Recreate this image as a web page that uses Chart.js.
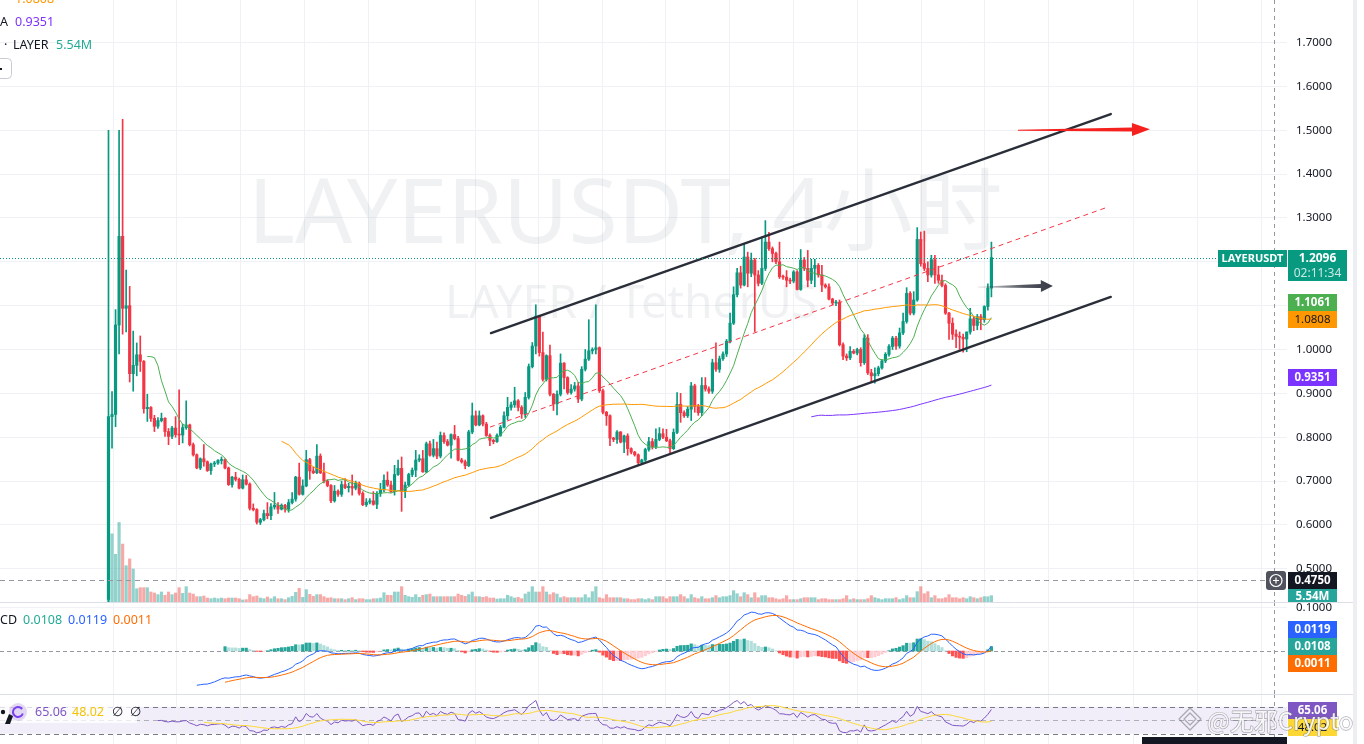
<!DOCTYPE html>
<html>
<head>
<meta charset="utf-8">
<script src="https://cdn.jsdelivr.net/npm/chart.js@4.4.1/dist/chart.umd.min.js"></script>
<style>
  html, body { margin: 0; padding: 0; background: #fff; overflow: hidden; }
  #wrap { position: relative; width: 1364px; height: 744px; }
  #wrap canvas { position: absolute; left: 0; }
  #strip { position: absolute; left: 1353px; top: 0; width: 4px; height: 744px; background: #eceef2; }
</style>
</head>
<body>
<div id="wrap">
  <canvas id="price" width="1364" height="602" style="top:0"></canvas>
  <canvas id="macd" width="1364" height="92" style="top:602px"></canvas>
  <canvas id="rsi" width="1364" height="50" style="top:694px"></canvas>
  <div id="strip"></div>
</div>
<script>
// LAYERUSDT 4h candles (index 0 = listing candle)
const opens = [
  .43,.847,.852,1.056,1.258,1.094,1.10,.945,.964,.988,
  .973,.865,.868,.843,.825,.838,.843,.813,.802,.821,
  .806,.805,.822,.828,.783,.76,.73,.751,.744,.724,
  .739,.741,.747,.749,.73,.692,.709,.704,.684,.703,
  .693,.638,.635,.606,.612,.626,.621,.641,.645,.636,
  .645,.636,.651,.659,.709,.670,.689,.749,.723,.719,
  .757,.719,.70,.69,.655,.677,.670,.692,.685,.688,
  .684,.695,.672,.646,.652,.655,.647,.672,.68,.702,
  .691,.676,.715,.729,.676,.691,.715,.725,.748,.751,
  .721,.785,.759,.774,.757,.804,.79,.782,.806,.797,
  .748,.744,.735,.812,.849,.828,.849,.83,.804,.793,
  .79,.804,.823,.849,.868,.874,.883,.868,.853,.891,
  .961,1.008,1.076,.993,.932,.986,.898,.876,.898,.969,
  .936,.902,.91,.917,.887,.955,.978,.997,1.0,1.004,
  .906,.857,.849,.798,.795,.812,.789,.803,.774,.766,
  .76,.742,.748,.772,.79,.778,.795,.808,.80,.792,
  .774,.811,.875,.856,.849,.864,.917,.87,.856,.918,
  .91,.905,.97,.955,.979,.99,1.019,1.06,1.125,1.175,
  1.147,1.211,1.174,1.204,1.17,1.151,1.185,1.245,1.23,1.219,
  1.20,1.166,1.165,1.158,1.156,1.177,1.137,1.204,1.185,1.158,
  1.185,1.192,1.17,1.147,1.143,1.115,1.106,1.108,1.011,.985,
  .981,.996,.992,1.0,.97,1.026,.947,.94,.945,.958,
  .974,.989,1.007,1.026,1.008,1.038,1.064,1.128,1.083,1.113,
  1.251,1.196,1.185,1.17,1.205,1.17,1.158,1.146,1.083,1.06,
  1.035,1.03,1.028,1.024,1.04,1.07,1.055,1.075,1.068,1.098,
  1.14
];
const highs = [
  1.50,.904,1.091,1.50,1.525,1.181,1.144,1.042,1.015,1.031,
  .975,.898,.870,.85,.845,.855,.845,.82,.825,.847,
  .908,.83,.883,.83,.787,.762,.753,.783,.746,.741,
  .745,.749,.755,.751,.732,.711,.72,.707,.714,.713,
  .696,.648,.637,.615,.634,.651,.649,.674,.651,.648,
  .647,.658,.674,.711,.741,.703,.77,.752,.732,.783,
  .762,.741,.703,.692,.69,.68,.70,.706,.695,.714,
  .70,.698,.676,.66,.66,.676,.676,.695,.714,.721,
  .70,.736,.748,.755,.698,.718,.73,.77,.76,.77,
  .789,.791,.795,.789,.812,.81,.795,.808,.827,.802,
  .752,.748,.816,.878,.86,.86,.851,.834,.808,.795,
  .808,.827,.858,.891,.88,.914,.886,.872,.902,.967,
  1.016,1.102,1.078,1.04,.988,1.01,.90,.906,.99,.97,
  .938,.92,.925,.925,.961,1.0,1.068,1.004,1.102,1.006,
  .91,.859,.851,.80,.815,.813,.805,.808,.776,.768,
  .762,.75,.775,.80,.797,.819,.822,.819,.818,.796,
  .819,.902,.90,.86,.87,.925,.921,.875,.936,.936,
  .915,.978,1.015,.985,.995,1.023,1.083,1.143,1.185,1.19,
  1.241,1.222,1.22,1.208,1.18,1.257,1.294,1.267,1.234,1.222,
  1.245,1.17,1.18,1.163,1.18,1.18,1.228,1.21,1.226,1.206,
  1.206,1.196,1.192,1.15,1.15,1.117,1.112,1.113,1.015,.99,
  1.007,1.0,1.003,1.004,1.034,1.034,.955,.958,.962,.977,
  .993,1.011,1.03,1.03,1.049,1.083,1.141,1.132,1.132,1.278,
  1.268,1.27,1.20,1.215,1.215,1.19,1.17,1.15,1.085,1.072,
  1.045,1.04,1.035,1.04,1.094,1.075,1.08,1.08,1.10,1.15,
  1.245
];
const lows = [
  .42,.775,.824,.99,1.035,1.04,.926,.905,.94,.95,
  .855,.836,.836,.813,.82,.835,.802,.783,.797,.80,
  .783,.787,.818,.78,.757,.728,.726,.734,.722,.715,
  .733,.738,.739,.728,.69,.686,.70,.682,.682,.691,
  .634,.632,.602,.601,.609,.614,.612,.636,.626,.634,
  .629,.629,.648,.654,.668,.668,.687,.704,.717,.717,
  .717,.696,.687,.651,.652,.665,.665,.683,.675,.668,
  .68,.668,.644,.642,.648,.645,.637,.665,.676,.688,
  .674,.668,.713,.631,.662,.688,.71,.71,.744,.72,
  .719,.757,.755,.751,.753,.786,.78,.752,.794,.746,
  .741,.728,.733,.808,.826,.826,.826,.802,.781,.785,
  .788,.802,.821,.84,.862,.868,.86,.843,.845,.887,
  .958,.99,.985,.928,.928,.894,.861,.851,.894,.91,
  .898,.898,.905,.879,.883,.951,.975,.99,.99,.902,
  .853,.827,.781,.79,.786,.787,.765,.759,.762,.757,
  .737,.739,.745,.768,.773,.774,.792,.797,.79,.76,
  .772,.808,.834,.845,.845,.838,.857,.85,.849,.905,
  .90,.90,.95,.948,.975,.984,1.015,1.057,1.12,1.14,
  1.145,1.143,1.166,1.041,1.145,1.148,1.18,1.226,1.20,1.196,
  1.162,1.16,1.143,1.15,1.152,1.136,1.135,1.18,1.143,1.15,
  1.143,1.165,1.132,1.14,1.113,1.102,1.10,1.008,.977,.975,
  .977,.99,.988,.962,.966,.943,.925,.923,.94,.955,
  .97,.985,1.0,1.0,1.003,1.034,1.06,1.079,1.079,1.11,
  1.19,1.18,1.155,1.165,1.151,1.151,1.143,1.08,1.023,1.023,
  1.004,1.0,.994,.995,1.035,1.043,1.045,1.045,1.062,1.09,
  1.12
];
const closes = [
  .847,.852,1.056,1.258,1.094,1.10,.945,.964,.988,.973,
  .865,.868,.843,.825,.838,.843,.813,.802,.821,.806,
  .805,.822,.828,.783,.76,.73,.751,.744,.724,.739,
  .741,.747,.749,.73,.692,.709,.704,.684,.703,.693,
  .638,.635,.606,.612,.626,.621,.641,.645,.636,.645,
  .636,.651,.659,.709,.670,.689,.749,.723,.719,.757,
  .719,.70,.69,.655,.677,.670,.692,.685,.688,.684,
  .695,.672,.646,.652,.655,.647,.672,.68,.702,.691,
  .676,.715,.729,.676,.691,.715,.725,.748,.751,.721,
  .785,.759,.774,.757,.804,.79,.782,.806,.797,.748,
  .744,.735,.812,.849,.828,.849,.83,.804,.793,.79,
  .804,.823,.849,.868,.874,.883,.868,.853,.891,.961,
  1.008,1.076,.993,.932,.986,.898,.876,.898,.969,.936,
  .902,.91,.917,.887,.955,.978,.997,1.0,1.004,.906,
  .857,.849,.798,.795,.812,.789,.803,.774,.766,.76,
  .742,.748,.772,.79,.778,.795,.808,.80,.792,.774,
  .811,.875,.856,.849,.864,.917,.87,.856,.918,.91,
  .905,.97,.955,.979,.99,1.019,1.06,1.125,1.175,1.147,
  1.211,1.174,1.204,1.17,1.151,1.185,1.245,1.23,1.219,1.20,
  1.166,1.165,1.158,1.156,1.177,1.137,1.204,1.185,1.158,1.185,
  1.192,1.17,1.147,1.143,1.115,1.106,1.108,1.011,.985,.981,
  .996,.992,1.0,.97,1.026,.947,.94,.945,.958,.974,
  .989,1.007,1.026,1.008,1.038,1.064,1.128,1.083,1.113,1.251,
  1.196,1.185,1.17,1.205,1.17,1.158,1.146,1.083,1.06,1.035,
  1.03,1.028,1.024,1.04,1.07,1.055,1.075,1.068,1.098,1.14,
  1.2096
];
// volume in millions
const volumes = [
  150,60,42,70,51,32,38,29,11.7,12.6,
  12.6,12.6,8.8,7.9,6.5,8.8,5.9,8.8,6.5,7.9,
  12.6,7.6,13.5,7.9,7,4.7,4.7,5.3,3.5,2.9,
  3.5,2.9,3.5,2.9,3.5,3.5,3.5,2.9,1.8,2.1,
  6.5,4.7,5.3,3.5,2.9,4.4,2.9,4.7,2.9,2.9,
  2.1,3.8,5,8.5,12,4.1,10.9,6.7,5,6.5,
  6.5,4.7,3.5,3.8,2.9,2.9,2.9,2.1,2.9,3.8,
  2.1,2.9,2.9,2.1,2.1,2.9,2.9,3.5,8.2,5.9,
  5.9,8.8,8.8,13.5,5.9,4.7,4.1,6.5,4.1,5.9,
  6.5,7,4.7,4.7,4.7,4.7,4.7,4.7,4.7,7,
  5.9,5,6.5,8.8,4.7,4.7,4.1,4.7,3.5,3.5,
  2.6,2.9,2.9,5.9,4.7,3.5,4.1,2.9,7,8.8,
  13.5,8.8,8.8,13.5,8.8,6.5,8.2,7,3.8,4.7,
  3.8,3.8,3.8,3.8,3.8,6.5,3.8,9.1,13.5,3.8,
  2.9,6.5,3.8,3.8,3.8,3.8,2.9,2.9,2.1,2.1,
  2.9,2.9,2.1,2.9,2.1,4.7,4.7,4.7,2.9,4.7,
  4.7,4.7,6.5,4.7,2.9,6.5,3.8,2.9,4.7,2.9,
  2.9,3.8,5.6,3.8,4.7,4.7,5.6,10,7.3,4.7,
  8.2,6.5,3.8,8.2,3.8,5.6,5.6,3.8,3.8,2.9,
  2.1,2.9,5.6,2.1,2.1,2.1,2.9,3.8,3.8,3.8,
  3.8,2.1,2.9,2.9,2.1,2.1,2.1,2.1,2.9,5.6,
  2.1,2.9,2.1,2.1,2.1,2.9,5.6,3.8,2.9,2.1,
  2.9,2.9,2.9,3.8,2.1,2.9,5.6,3.8,3.8,9.1,
  13.5,7.3,9.1,3.8,5.6,2.9,2.9,3.8,6.5,3.8,
  3.8,2.9,3.8,2.9,4.7,3.8,2.9,3.8,4.7,4.7,
  5.6
];

const priceTicks = [0.5, 0.6, 0.7, 0.8, 0.9, 1.0, 1.1, 1.2, 1.3, 1.4, 1.5, 1.6, 1.7];
const macdTicks = [0.1];
const timeGrid = [1.3, 19.1, 37.2, 55.4, 73.5, 103.8, 121.6, 139.7, 157.6, 175.7, 193.8, 211.9, 230.0, 247.9, 266.0, 290.1, 308.2, 326.3];
const cursorIdx = 330;

const maPeriods = [12, 50, 200];
const maColors = ['#4CAF50', '#FF9800', '#7B33FF'];
const maLast = [1.1061, 1.0808, 0.9351];
const lastPrice = 1.2096;
const countdown = '02:11:34';
const lastVolText = '5.54M';
const lastVol = 5.54;
const alertPrice = 0.4750;
const macdLast = [0.0119, 0.0108, 0.0011];   // macd, histogram, signal
const rsiLast = [65.06, 48.02];
const rsiLevels = [70, 50, 30];

// drawings: [candle index, price]
const channelUpper = [[108.3, 1.0376], [283.8, 1.537]];
const channelLower = [[108.3, 0.616], [283.8, 1.12]];
const channelMid = [[108.0, 0.823], [283.0, 1.325]];
const redArrow = [[257.5, 1.500], [294.9, 1.502]];
const grayArrow = [[246.2, 1.1425], [267.4, 1.145]];

const UP = '#089981', DOWN = '#F23645';
const FONT = '"Noto Sans", "Liberation Sans", sans-serif';
const WM_FONT = '"Noto Sans", "Noto Sans CJK SC", sans-serif';
const xMin = -30.72, xMax = 333.7;

// indicators
function sma(src, n) {
  return src.map((v, i) => {
    if (i < n - 1) return null;
    let s = 0;
    for (let k = i - n + 1; k <= i; k++) { if (src[k] == null) return null; s += src[k]; }
    return s / n;
  });
}
function ema(src, n) {
  const a = 2 / (n + 1), out = [], buf = [];
  let prev = null;
  for (const v of src) {
    if (v == null) { out.push(null); continue; }
    if (prev == null) {
      buf.push(v);
      if (buf.length === n) { prev = buf.reduce((p, q) => p + q, 0) / n; out.push(prev); }
      else out.push(null);
    } else { prev = a * v + (1 - a) * prev; out.push(prev); }
  }
  return out;
}
function rsi(src, n) {
  const out = [null];
  let su = 0, sd = 0, au = 0, ad = 0;
  for (let i = 1; i < src.length; i++) {
    const d = src[i] - src[i - 1], u = Math.max(d, 0), dn = Math.max(-d, 0);
    if (i <= n) {
      su += u; sd += dn;
      if (i === n) { au = su / n; ad = sd / n; out.push(100 - 100 / (1 + au / ad)); }
      else out.push(null);
    } else {
      au = (au * (n - 1) + u) / n; ad = (ad * (n - 1) + dn) / n;
      out.push(100 - 100 / (1 + au / ad));
    }
  }
  return out;
}

const idx = closes.map((_, i) => i);
const candleColors = idx.map(i => closes[i] >= opens[i] ? UP : DOWN);
const volColors = idx.map(i => closes[i] >= opens[i] ? 'rgba(38,166,154,0.5)' : 'rgba(239,83,80,0.5)');
const maSeries = maPeriods.map(n => sma(closes, n));

const ema12 = ema(closes, 12), ema26 = ema(closes, 26);
const macdLine = idx.map(i => ema12[i] != null && ema26[i] != null ? ema12[i] - ema26[i] : null);
const signalLine = ema(macdLine, 9);
const hist = idx.map(i => macdLine[i] != null && signalLine[i] != null ? macdLine[i] - signalLine[i] : null);
const histColors = hist.map((h, i) => {
  if (h == null) return 'rgba(0,0,0,0)';
  const p = hist[i - 1];
  if (h >= 0) return (p == null || h > p) ? '#26A69A' : '#B2DFDB';
  return (p == null || h < p) ? '#FF5252' : '#FFCDD2';
});
const rsiLine = rsi(closes, 14);
const rsiMa = sma(rsiLine, 14);

// helpers
const xy = arr => arr.map((v, i) => ({ x: i, y: v }));
function rightAxis(extra) {
  return Object.assign({
    position: 'right',
    border: { display: false },
    afterFit(s) { s.width = 77; s.paddingTop = 0; s.paddingBottom = 0; }
  }, extra);
}
function timeGridLines(ctx, x, top, bottom) {
  ctx.save();
  ctx.strokeStyle = '#eff1f5';
  ctx.lineWidth = 1;
  timeGrid.forEach(v => {
    const px = Math.round(x.getPixelForValue(v)) + 0.5;
    ctx.beginPath(); ctx.moveTo(px, top); ctx.lineTo(px, bottom); ctx.stroke();
  });
  ctx.restore();
}
function cursorLine(ctx, x, h) {
  ctx.save();
  ctx.strokeStyle = '#9598a1';
  ctx.setLineDash([4, 4]);
  const px = Math.round(x.getPixelForValue(cursorIdx)) + 0.5;
  ctx.beginPath(); ctx.moveTo(px, 0); ctx.lineTo(px, h); ctx.stroke();
  ctx.restore();
}
function separator(ctx, w) {
  ctx.save();
  ctx.strokeStyle = '#dcdee8';
  ctx.beginPath(); ctx.moveTo(0, 0.5); ctx.lineTo(w, 0.5); ctx.stroke();
  ctx.restore();
}
function tag(ctx, x, yc, w, h, bg, text, color, font) {
  ctx.fillStyle = bg;
  ctx.fillRect(x, Math.round(yc - h / 2), w, h);
  ctx.fillStyle = color;
  ctx.font = font || ('bold 11.5px ' + FONT);
  ctx.textAlign = 'center';
  ctx.textBaseline = 'middle';
  ctx.fillText(text, x + w / 2, Math.round(yc - h / 2) + h / 2 + 0.5);
}
function stackDown(ys, h, anchor) {
  return ys.map((_, j) => ys[anchor] + (j - anchor) * h);
}
function label(ctx, text, x, y, color, size) {
  ctx.font = (size || 12.5) + 'px ' + FONT;
  ctx.fillStyle = color;
  ctx.textAlign = 'left';
  ctx.textBaseline = 'alphabetic';
  ctx.fillText(text, x, y);
}
function fitText(ctx, text, x, y, w) {
  ctx.font = '100px ' + WM_FONT;
  const m = ctx.measureText(text).width;
  ctx.font = (100 * w / m).toFixed(1) + 'px ' + WM_FONT;
  ctx.fillText(text, x, y);
}
function taperArrow(ctx, p1, p2, fill, shaftW, headL, headW) {
  const ang = Math.atan2(p2[1] - p1[1], p2[0] - p1[0]);
  const len = Math.hypot(p2[0] - p1[0], p2[1] - p1[1]);
  ctx.save();
  ctx.translate(p1[0], p1[1]);
  ctx.rotate(ang);
  ctx.beginPath();
  ctx.moveTo(0, -0.4);
  ctx.lineTo(len - headL, -shaftW / 2);
  ctx.lineTo(len - headL, -headW / 2);
  ctx.lineTo(len, 0);
  ctx.lineTo(len - headL, headW / 2);
  ctx.lineTo(len - headL, shaftW / 2);
  ctx.lineTo(0, 0.4);
  ctx.closePath();
  if (typeof fill === 'function') ctx.fillStyle = fill(ctx, len); else ctx.fillStyle = fill;
  ctx.fill();
  ctx.restore();
}

const common = {
  responsive: false,
  animation: false,
  events: [],
  devicePixelRatio: 1,
  layout: { padding: 0 },
  datasets: { bar: { grouped: false } },
  plugins: { legend: { display: false }, tooltip: { enabled: false } }
};

// ---------- price pane ----------
const pricePlugin = {
  id: 'pricePane',
  beforeDatasetsDraw(chart) {
    const { ctx, chartArea: a, scales: { x } } = chart;
    timeGridLines(ctx, x, a.top, a.bottom);
    ctx.save();
    ctx.fillStyle = 'rgba(120,123,134,0.11)';
    ctx.textAlign = 'left';
    ctx.textBaseline = 'alphabetic';
    fitText(ctx, 'LAYERUSDT, 4小时', 248, 243, 755);
    fitText(ctx, 'LAYER / TetherUS', 445, 318, 372);
    ctx.restore();
  },
  afterDraw(chart) {
    const { ctx, chartArea: a, scales: { x, y, yVol } } = chart;
    const P = p => [x.getPixelForValue(p[0]), y.getPixelForValue(p[1])];
    ctx.save();

    // channel
    ctx.strokeStyle = '#2a2e39';
    ctx.lineWidth = 2.4;
    ctx.lineCap = 'round';
    [channelUpper, channelLower].forEach(l => {
      const s = P(l[0]), e = P(l[1]);
      ctx.beginPath(); ctx.moveTo(s[0], s[1]); ctx.lineTo(e[0], e[1]); ctx.stroke();
    });
    ctx.strokeStyle = '#f23645';
    ctx.lineWidth = 1;
    ctx.lineCap = 'butt';
    ctx.setLineDash([5, 4]);
    {
      const s = P(channelMid[0]), e = P(channelMid[1]);
      ctx.beginPath(); ctx.moveTo(s[0], s[1]); ctx.lineTo(e[0], e[1]); ctx.stroke();
    }
    ctx.setLineDash([]);
    taperArrow(ctx, P(redArrow[0]), P(redArrow[1]), '#f5211e', 4, 18, 13);
    taperArrow(ctx, P(grayArrow[0]), P(grayArrow[1]), (c, len) => {
      const g = c.createLinearGradient(0, 0, len, 0);
      g.addColorStop(0, 'rgba(54,58,69,0.15)');
      g.addColorStop(0.6, 'rgba(54,58,69,0.85)');
      g.addColorStop(1, 'rgba(54,58,69,1)');
      return g;
    }, 4, 12, 12);

    // last price dotted line
    const ly = Math.round(y.getPixelForValue(lastPrice)) + 0.5;
    ctx.strokeStyle = UP;
    ctx.lineWidth = 1;
    ctx.setLineDash([1, 2]);
    ctx.beginPath(); ctx.moveTo(a.left, ly); ctx.lineTo(a.right - 69, ly); ctx.stroke();

    // horizontal level 0.4750
    const ay = Math.round(y.getPixelForValue(alertPrice)) + 0.5;
    ctx.strokeStyle = '#9598a1';
    ctx.setLineDash([5, 4]);
    ctx.beginPath(); ctx.moveTo(a.left, ay); ctx.lineTo(a.right - 21, ay); ctx.stroke();
    ctx.setLineDash([]);
    ctx.restore();

    cursorLine(ctx, x, chart.height);

    ctx.save();
    // plus button
    ctx.fillStyle = '#50535e';
    ctx.beginPath(); ctx.roundRect(a.right - 21, ay - 9.5, 20, 19, 3); ctx.fill();
    ctx.strokeStyle = '#ffffff';
    ctx.lineWidth = 1.2;
    ctx.beginPath(); ctx.arc(a.right - 11, ay, 6, 0, Math.PI * 2); ctx.stroke();
    ctx.beginPath();
    ctx.moveTo(a.right - 14, ay); ctx.lineTo(a.right - 8, ay);
    ctx.moveTo(a.right - 11, ay - 3); ctx.lineTo(a.right - 11, ay + 3);
    ctx.stroke();

    // legend, top-left
    label(ctx, maLast[1].toFixed(4), 15, 3, maColors[1]);
    label(ctx, 'A', 0, 26, '#131722');
    label(ctx, maLast[2].toFixed(4), 15, 26, maColors[2]);
    label(ctx, '·', 4, 49, '#131722');
    label(ctx, 'LAYER', 13, 49, '#131722');
    label(ctx, lastVolText, 56, 49, '#22ab94');
    ctx.strokeStyle = '#c9cbd3';
    ctx.lineWidth = 1;
    ctx.beginPath(); ctx.roundRect(-6.5, 58.5, 18, 20, 4); ctx.stroke();
    ctx.fillStyle = '#131722';
    ctx.fillRect(0, 68, 2, 2);

    // axis tags
    const R = a.right + 1;
    tag(ctx, a.right - 69, ly, 69, 17, UP, 'LAYERUSDT', '#fff', 'bold 11px ' + FONT);
    ctx.fillStyle = UP;
    ctx.fillRect(R, ly - 8.5, 59, 31);
    ctx.fillStyle = '#fff';
    ctx.font = 'bold 12px ' + FONT;
    ctx.textAlign = 'center';
    ctx.textBaseline = 'middle';
    ctx.fillText(lastPrice.toFixed(4), R + 29.5, ly);
    ctx.fillStyle = 'rgba(255,255,255,0.78)';
    ctx.font = '12px ' + FONT;
    ctx.fillText(countdown, R + 29.5, ly + 15);

    const maYs = stackDown([y.getPixelForValue(maLast[0]), y.getPixelForValue(maLast[1])], 17, 0);
    tag(ctx, R, maYs[0], 49, 17, maColors[0], maLast[0].toFixed(4), '#fff');
    tag(ctx, R, maYs[1], 49, 17, maColors[1], maLast[1].toFixed(4), '#131722', '11.5px ' + FONT);
    tag(ctx, R, y.getPixelForValue(maLast[2]), 49, 17, maColors[2], maLast[2].toFixed(4), '#fff');
    tag(ctx, R, yVol.getPixelForValue(lastVol), 49, 14, '#26a69a', lastVolText, '#fff');
    tag(ctx, R, ay, 49, 17, '#131722', alertPrice.toFixed(4), '#fff');
    ctx.restore();
  }
};

new Chart(document.getElementById('price'), {
  type: 'bar',
  data: {
    datasets: [
      { label: 'Volume', data: xy(volumes), yAxisID: 'yVol', backgroundColor: volColors, barThickness: 2.5, order: 10 },
      { label: 'Wick', data: idx.map(i => ({ x: i, y: [lows[i], highs[i]] })), backgroundColor: candleColors, barThickness: 1, order: 6 },
      { label: 'Body', data: idx.map(i => ({ x: i, y: [opens[i], closes[i]] })), backgroundColor: candleColors, barThickness: 2.5, minBarLength: 1, order: 5 },
      ...maSeries.map((s, k) => ({
        type: 'line', label: 'MA' + maPeriods[k], data: xy(s), borderColor: maColors[k],
        borderWidth: 1, pointRadius: 0, tension: 0, order: 3 - k
      }))
    ]
  },
  options: Object.assign({}, common, {
    scales: {
      x: { type: 'linear', min: xMin, max: xMax, offset: false, display: false },
      y: rightAxis({
        min: 0.4243, max: 1.797,
        afterBuildTicks(s) { s.ticks = priceTicks.map(v => ({ value: v })); },
        ticks: { callback: v => Number(v).toFixed(4), color: '#131722', font: { family: FONT, size: 11.5 }, padding: 9 },
        grid: { color: '#eff1f5', drawTicks: false }
      }),
      yVol: { display: false, min: 0, max: 530 }
    }
  }),
  plugins: [pricePlugin]
});

// ---------- MACD pane ----------
const macdPlugin = {
  id: 'macdPane',
  beforeDatasetsDraw(chart) {
    const { ctx, chartArea: a, scales: { x, y } } = chart;
    timeGridLines(ctx, x, a.top, a.bottom);
    ctx.save();
    ctx.strokeStyle = '#9598a1';
    ctx.setLineDash([4, 3]);
    const zy = Math.round(y.getPixelForValue(0)) + 0.5;
    ctx.beginPath(); ctx.moveTo(a.left, zy); ctx.lineTo(a.right, zy); ctx.stroke();
    ctx.restore();
  },
  afterDraw(chart) {
    const { ctx, chartArea: a, scales: { x, y } } = chart;
    cursorLine(ctx, x, chart.height);
    separator(ctx, 1353);
    ctx.save();
    label(ctx, 'CD', 0, 22, '#131722');
    label(ctx, macdLast[1].toFixed(4), 23, 22, '#22ab94');
    label(ctx, macdLast[0].toFixed(4), 68, 22, '#2962FF');
    label(ctx, macdLast[2].toFixed(4), 113, 22, '#FF6D00');
    const R = a.right + 1;
    const ys = stackDown(macdLast.map(v => y.getPixelForValue(v)), 17, 1);
    tag(ctx, R, ys[0], 49, 17, '#2962FF', macdLast[0].toFixed(4), '#fff');
    tag(ctx, R, ys[1], 49, 17, '#26A69A', macdLast[1].toFixed(4), '#fff');
    tag(ctx, R, ys[2], 49, 17, '#FF6D00', macdLast[2].toFixed(4), '#fff');
    ctx.restore();
  }
};

new Chart(document.getElementById('macd'), {
  type: 'bar',
  data: {
    datasets: [
      { label: 'Histogram', data: xy(hist), backgroundColor: histColors, barThickness: 2.5, order: 5 },
      { type: 'line', label: 'MACD', data: xy(macdLine), borderColor: '#2962FF', borderWidth: 1, pointRadius: 0, order: 2 },
      { type: 'line', label: 'Signal', data: xy(signalLine), borderColor: '#FF6D00', borderWidth: 1, pointRadius: 0, order: 1 }
    ]
  },
  options: Object.assign({}, common, {
    scales: {
      x: { type: 'linear', min: xMin, max: xMax, offset: false, display: false },
      y: rightAxis({
        min: -0.1, max: 0.11395,
        afterBuildTicks(s) { s.ticks = macdTicks.map(v => ({ value: v })); },
        ticks: { callback: v => Number(v).toFixed(4), color: '#131722', font: { family: FONT, size: 11.5 }, padding: 9 },
        grid: { color: '#eff1f5', drawTicks: false }
      })
    }
  }),
  plugins: [macdPlugin]
});

// ---------- RSI pane ----------
const rsiPlugin = {
  id: 'rsiPane',
  beforeDatasetsDraw(chart) {
    const { ctx, chartArea: a, scales: { x, y } } = chart;
    ctx.save();
    const yTop = y.getPixelForValue(rsiLevels[0]), yBot = y.getPixelForValue(rsiLevels[2]);
    ctx.fillStyle = 'rgba(126,87,194,0.1)';
    ctx.fillRect(a.left, yTop, a.right - a.left, yBot - yTop);
    ctx.restore();
    timeGridLines(ctx, x, a.top, a.bottom);
    ctx.save();
    ctx.setLineDash([5, 4]);
    rsiLevels.forEach((lv, k) => {
      ctx.strokeStyle = k === 1 ? 'rgba(120,123,134,0.55)' : '#787b86';
      const py = Math.round(y.getPixelForValue(lv)) + 0.5;
      ctx.beginPath(); ctx.moveTo(a.left, py); ctx.lineTo(a.right, py); ctx.stroke();
    });
    ctx.restore();
  },
  afterDraw(chart) {
    const { ctx, chartArea: a, scales: { x, y } } = chart;
    cursorLine(ctx, x, chart.height);
    separator(ctx, 1353);
    ctx.save();
    // legend
    ctx.fillStyle = 'rgba(255,255,255,0.75)';
    ctx.fillRect(0, 13, 137, 16);
    ctx.fillStyle = 'rgba(126,87,194,0.22)';
    ctx.beginPath(); ctx.arc(18, 18, 9, 0, Math.PI * 2); ctx.fill();
    ctx.strokeStyle = '#7b3ff2';
    ctx.lineWidth = 2;
    ctx.beginPath(); ctx.arc(18, 18, 5, 0.3, Math.PI * 1.8); ctx.stroke();
    ctx.fillStyle = '#131722';
    ctx.beginPath(); ctx.moveTo(5, 30); ctx.lineTo(9, 20); ctx.lineTo(13, 22); ctx.lineTo(10, 30); ctx.closePath(); ctx.fill();
    ctx.beginPath(); ctx.arc(3, 18, 2.2, 0, Math.PI * 2); ctx.fill();
    label(ctx, rsiLast[0].toFixed(2), 35, 21.5, '#7E57C2');
    label(ctx, rsiLast[1].toFixed(2), 72, 21.5, '#f5c400');
    label(ctx, '∅  ∅', 112, 21.5, '#131722');

    const R = a.right + 1;
    const ys = stackDown(rsiLast.map(v => y.getPixelForValue(v)), 17, 0);
    tag(ctx, R, ys[0], 49, 17, '#7E57C2', rsiLast[0].toFixed(2), '#fff');
    tag(ctx, R, ys[1], 49, 17, '#FDD835', rsiLast[1].toFixed(2), '#131722', '11.5px ' + FONT);

    // bottom bar
    ctx.fillStyle = '#131722';
    ctx.fillRect(1142, 43, a.right - 1142, 7);

    // author watermark
    ctx.lineJoin = 'round';
    ctx.strokeStyle = 'rgba(110,112,122,0.55)';
    ctx.lineWidth = 1.3;
    ctx.beginPath();
    ctx.moveTo(1190, 14); ctx.lineTo(1201, 25); ctx.lineTo(1190, 36); ctx.lineTo(1179, 25); ctx.closePath();
    ctx.moveTo(1190, 19); ctx.lineTo(1196, 25); ctx.lineTo(1190, 31); ctx.lineTo(1184, 25); ctx.closePath();
    ctx.stroke();
    ctx.font = '24px "Noto Sans CJK SC", ' + FONT;
    ctx.textAlign = 'left';
    ctx.textBaseline = 'alphabetic';
    ctx.strokeText('@无邪Crypto', 1207, 36);
    ctx.fillStyle = 'rgba(255,255,255,0.88)';
    ctx.fillText('@无邪Crypto', 1207, 36);
    ctx.restore();
  }
};

new Chart(document.getElementById('rsi'), {
  type: 'line',
  data: {
    datasets: [
      { label: 'RSI', data: xy(rsiLine), borderColor: '#7E57C2', borderWidth: 1, pointRadius: 0, order: 2 },
      { label: 'RSI MA', data: xy(rsiMa), borderColor: '#FDD835', borderWidth: 1, pointRadius: 0, order: 1 }
    ]
  },
  options: Object.assign({}, common, {
    scales: {
      x: { type: 'linear', min: xMin, max: xMax, offset: false, display: false },
      y: rightAxis({ min: 14.8, max: 88.9, ticks: { display: false }, grid: { display: false } })
    }
  }),
  plugins: [rsiPlugin]
});
</script>
</body>
</html>
